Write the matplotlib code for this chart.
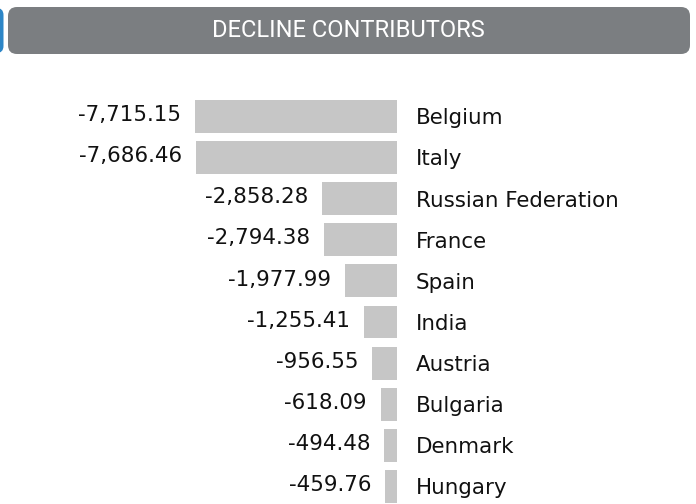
import matplotlib.pyplot as plt
from matplotlib.patches import FancyBboxPatch

countries = ["Belgium", "Italy", "Russian Federation", "France", "Spain",
             "India", "Austria", "Bulgaria", "Denmark", "Hungary"]
values = [-7715.15, -7686.46, -2858.28, -2794.38, -1977.99,
          -1255.41, -956.55, -618.09, -494.48, -459.76]

W, H = 696, 504
fig = plt.figure(figsize=(W / 100, H / 100), dpi=100)

# background layer in pixel units for the header bar
bg = fig.add_axes([0, 0, 1, 1])
bg.set_xlim(0, W)
bg.set_ylim(H, 0)
bg.axis("off")
bg.add_patch(FancyBboxPatch((8, 7), 682, 47,
                            boxstyle="round,pad=0,rounding_size=9",
                            fc="#7b7e81", ec="none"))
bg.add_patch(FancyBboxPatch((-20, 8), 23.5, 45,
                            boxstyle="round,pad=0,rounding_size=7",
                            fc="#2d86c7", ec="none"))
bg.text(348, 30.5, "DECLINE CONTRIBUTORS", ha="center", va="center",
        fontfamily="Roboto", fontsize=17, color="white")

# bars, all right-aligned on zero
px_per_unit = 0.026182
ax = fig.add_axes([0, 0, 397 / W, (H - 75) / H])
ax.set_xlim(-397 / px_per_unit, 0)
ax.set_ylim(9.428, -1.01)
ax.axis("off")

ypos = list(range(len(countries)))
ax.barh(ypos, values, height=0.80, color="#c6c6c6")

for i, (name, v) in enumerate(zip(countries, values)):
    ax.annotate(f"{v:,.2f}", (v, i), xytext=(-10, 1.0),
                textcoords="offset points", ha="right", va="center",
                fontsize=15.4, color="#111111", annotation_clip=False)
    ax.annotate(name, (0, i), xytext=(13.6, -1.3),
                textcoords="offset points", ha="left", va="center",
                fontsize=15.4, color="#111111", annotation_clip=False)

fig.savefig("out.png", dpi=100)
